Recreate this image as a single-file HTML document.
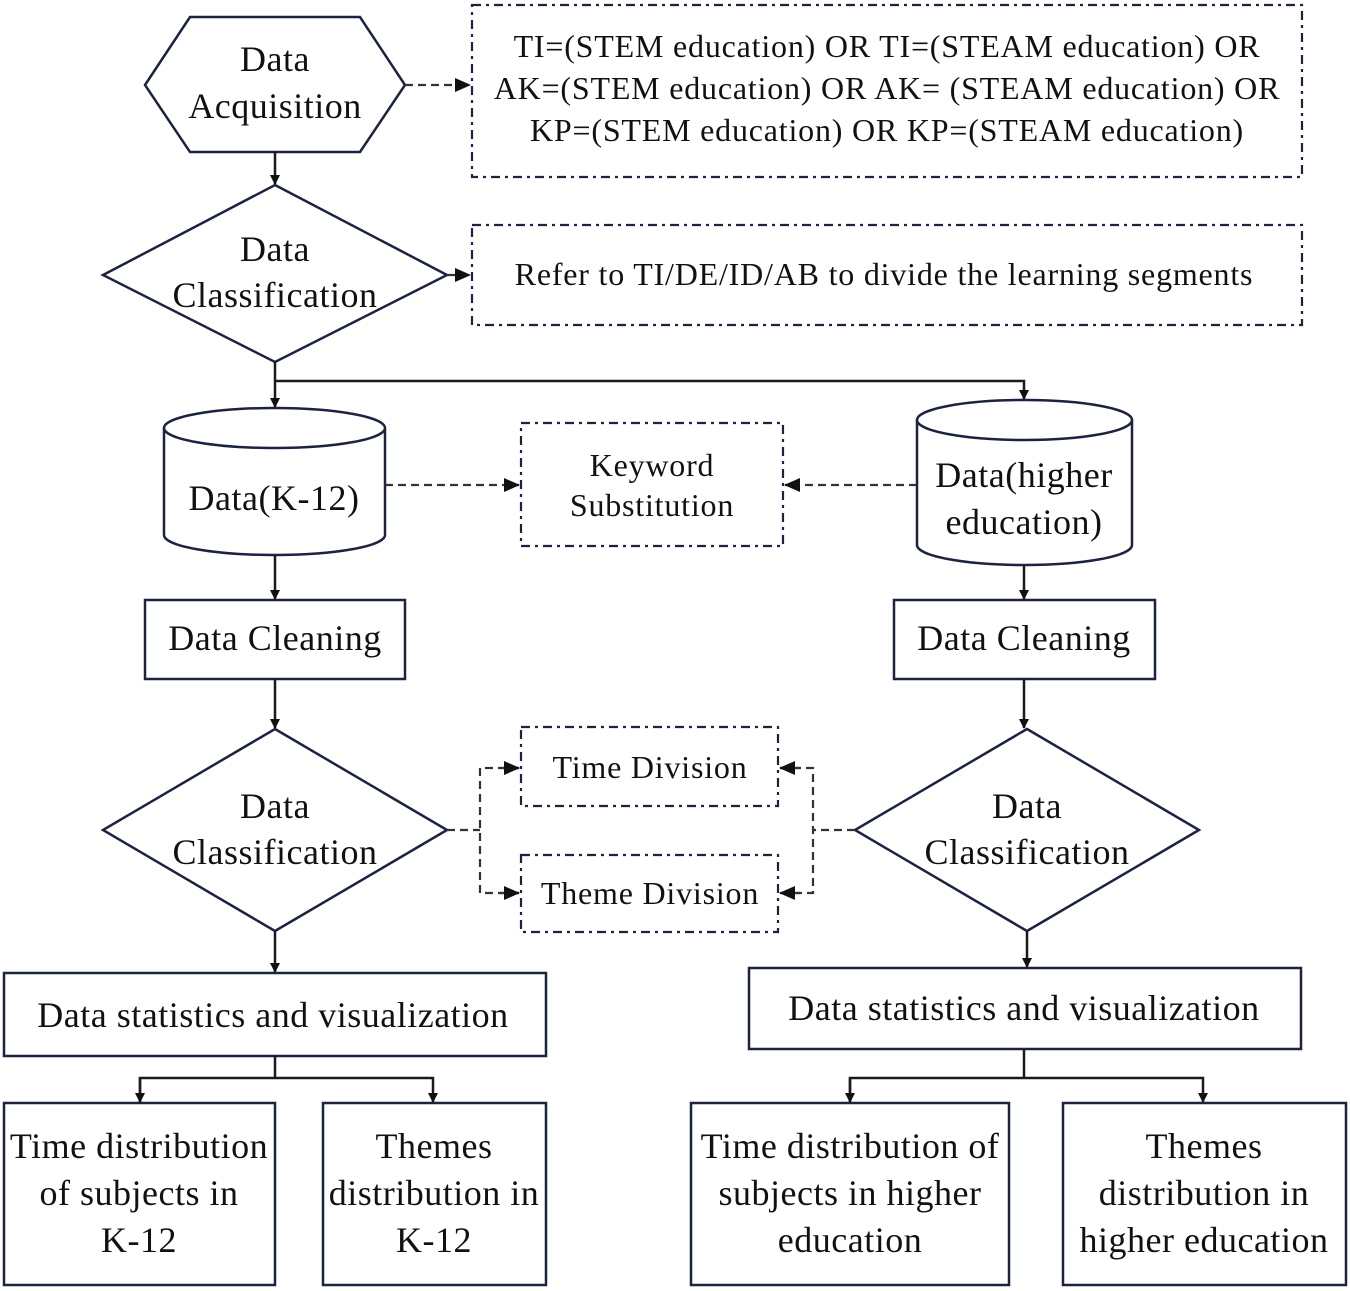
<!DOCTYPE html>
<html><head><meta charset="utf-8"><style>
html,body{margin:0;padding:0;background:#fff}
svg{display:block}
text{font-family:"Liberation Serif",serif;fill:#111;text-anchor:middle}
.s{fill:#fff;stroke:#1c2340;stroke-width:2.5}
.d{fill:#fff;stroke:#1c2340;stroke-width:2.2;stroke-dasharray:9,5,3,5}
.l{stroke:#1a1a1a;stroke-width:2.5;fill:none}
.dl{stroke:#333;stroke-width:2.2;fill:none;stroke-dasharray:8,5}
.t{font-size:36px;letter-spacing:0.5px}
.u{font-size:32px;letter-spacing:0.8px}
</style></head><body>
<svg width="1350" height="1291" viewBox="0 0 1350 1291" xmlns="http://www.w3.org/2000/svg">
<defs><marker id="a" markerWidth="10" markerHeight="10" refX="9" refY="5" orient="auto" markerUnits="userSpaceOnUse" viewBox="0 0 10 10"><path d="M0,0L10,5L0,10z" fill="#111"/></marker>
<marker id="b" markerWidth="16" markerHeight="14" refX="15" refY="7" orient="auto" markerUnits="userSpaceOnUse" viewBox="0 0 16 14"><path d="M0,0L16,7L0,14z" fill="#111"/></marker></defs>

<polygon class="s" points="145,85 190,17 360,17 405,85 360,152 190,152"/>
<text class="t" x="275" y="71">Data</text><text class="t" x="275" y="118">Acquisition</text>
<rect class="d" x="472" y="5" width="830" height="172"/>
<text class="u" x="887" y="57">TI=(STEM education) OR TI=(STEAM education) OR</text>
<text class="u" x="887" y="99">AK=(STEM education) OR AK= (STEAM education) OR</text>
<text class="u" x="887" y="141">KP=(STEM education) OR KP=(STEAM education)</text>
<line class="dl" x1="405" y1="85" x2="470" y2="85" marker-end="url(#b)"/>

<line class="l" x1="275" y1="152" x2="275" y2="184" marker-end="url(#a)"/>
<polygon class="s" points="275,185 447,275 275,362 103,275"/>
<text class="t" x="275" y="261">Data</text><text class="t" x="275" y="307">Classification</text>
<line class="dl" x1="447" y1="275" x2="470" y2="275" marker-end="url(#b)"/>
<rect class="d" x="472" y="225" width="830" height="100"/>
<text class="u" x="884" y="285">Refer to TI/DE/ID/AB to divide the learning segments</text>

<line class="l" x1="275" y1="362" x2="275" y2="407" marker-end="url(#a)"/>
<polyline class="l" points="275,381 1024,381 1024,399" marker-end="url(#a)"/>

<path class="s" d="M164,428 A110.5,20 0 0 1 385,428 L385,535 A110.5,20 0 0 1 164,535 Z"/>
<path class="s" d="M164,428 A110.5,20 0 0 0 385,428"/>
<text class="t" x="274" y="510">Data(K-12)</text>
<path class="s" d="M917,420 A107.5,20 0 0 1 1132,420 L1132,545 A107.5,20 0 0 1 917,545 Z"/>
<path class="s" d="M917,420 A107.5,20 0 0 0 1132,420"/>
<text class="t" x="1024" y="487">Data(higher</text><text class="t" x="1024" y="534">education)</text>

<rect class="d" x="521" y="423" width="262" height="123"/>
<text class="u" x="652" y="476">Keyword</text><text class="u" x="652" y="516">Substitution</text>
<line class="dl" x1="385" y1="485" x2="519" y2="485" marker-end="url(#b)"/>
<line class="dl" x1="917" y1="485" x2="785" y2="485" marker-end="url(#b)"/>

<line class="l" x1="275" y1="555" x2="275" y2="599" marker-end="url(#a)"/>
<rect class="s" x="145" y="600" width="260" height="79"/>
<text class="t" x="275" y="650">Data Cleaning</text>
<line class="l" x1="1024" y1="565" x2="1024" y2="599" marker-end="url(#a)"/>
<rect class="s" x="894" y="600" width="261" height="79"/>
<text class="t" x="1024" y="650">Data Cleaning</text>

<line class="l" x1="275" y1="679" x2="275" y2="728" marker-end="url(#a)"/>
<polygon class="s" points="275,729 447,830 275,931 103,830"/>
<text class="t" x="275" y="818">Data</text><text class="t" x="275" y="864">Classification</text>
<line class="l" x1="1024" y1="679" x2="1024" y2="728" marker-end="url(#a)"/>
<polygon class="s" points="1027,729 1199,830 1027,931 855,830"/>
<text class="t" x="1027" y="818">Data</text><text class="t" x="1027" y="864">Classification</text>

<rect class="d" x="521" y="727" width="257" height="79"/>
<text class="u" x="650" y="778">Time Division</text>
<rect class="d" x="521" y="855" width="257" height="77"/>
<text class="u" x="650" y="904">Theme Division</text>
<polyline class="dl" points="447,830 480,830"/>
<polyline class="dl" points="519,768 480,768 480,893 519,893"/>
<line class="dl" x1="500" y1="768" x2="519" y2="768" marker-end="url(#b)"/>
<line class="dl" x1="500" y1="893" x2="519" y2="893" marker-end="url(#b)"/>
<polyline class="dl" points="855,830 813,830"/>
<polyline class="dl" points="780,768 813,768 813,893 780,893"/>
<line class="dl" x1="800" y1="768" x2="780" y2="768" marker-end="url(#b)"/>
<line class="dl" x1="800" y1="893" x2="780" y2="893" marker-end="url(#b)"/>

<line class="l" x1="275" y1="931" x2="275" y2="972" marker-end="url(#a)"/>
<rect class="s" x="4" y="973" width="542" height="83"/>
<text class="t" x="273" y="1027">Data statistics and visualization</text>
<line class="l" x1="1027" y1="931" x2="1027" y2="967" marker-end="url(#a)"/>
<rect class="s" x="749" y="968" width="552" height="81"/>
<text class="t" x="1024" y="1020">Data statistics and visualization</text>

<line class="l" x1="275" y1="1056" x2="275" y2="1078"/>
<polyline class="l" points="140,1102 140,1078 433,1078 433,1102" marker-end="url(#a)"/>
<line class="l" x1="140" y1="1078" x2="140" y2="1102" marker-end="url(#a)"/>
<rect class="s" x="4" y="1103" width="271" height="182"/>
<text class="t" x="139" y="1158">Time distribution</text><text class="t" x="139" y="1205">of subjects in</text><text class="t" x="139" y="1252">K-12</text>
<rect class="s" x="323" y="1103" width="223" height="182"/>
<text class="t" x="434" y="1158">Themes</text><text class="t" x="434" y="1205">distribution in</text><text class="t" x="434" y="1252">K-12</text>

<line class="l" x1="1024" y1="1049" x2="1024" y2="1078"/>
<polyline class="l" points="850,1102 850,1078 1203,1078 1203,1102" marker-end="url(#a)"/>
<line class="l" x1="850" y1="1078" x2="850" y2="1102" marker-end="url(#a)"/>
<rect class="s" x="691" y="1103" width="318" height="182"/>
<text class="t" x="850" y="1158">Time distribution of</text><text class="t" x="850" y="1205">subjects in higher</text><text class="t" x="850" y="1252">education</text>
<rect class="s" x="1063" y="1103" width="283" height="182"/>
<text class="t" x="1204" y="1158">Themes</text><text class="t" x="1204" y="1205">distribution in</text><text class="t" x="1204" y="1252">higher education</text>
</svg>
</body></html>
